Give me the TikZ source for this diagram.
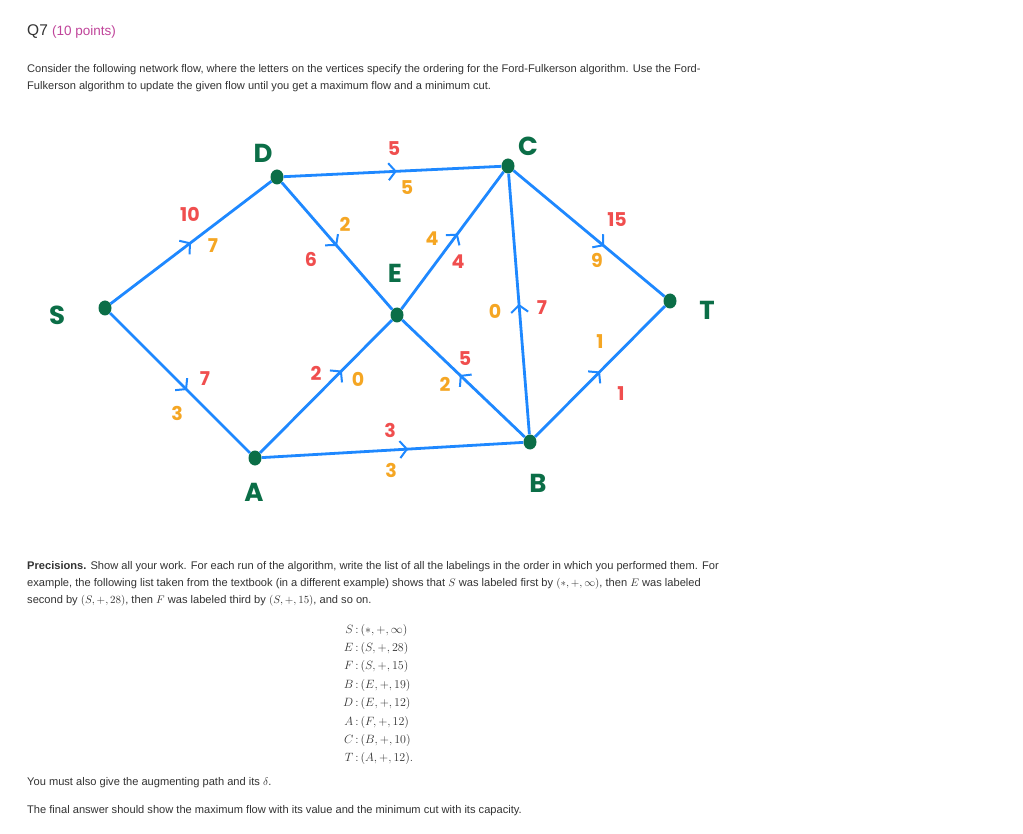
\documentclass[tikz,border=0pt]{standalone}
\usepackage{fontspec}
\setmainfont{Liberation Sans}
\newfontfamily\hand{Poppins}
\usetikzlibrary{decorations.markings,arrows.meta,shapes.geometric}
\definecolor{eblue}{HTML}{1E88FF}
\definecolor{vgreen}{HTML}{0B6E47}
\definecolor{cred}{HTML}{F04E4E}
\definecolor{forange}{HTML}{F5A623}
\definecolor{pinkt}{HTML}{C0449A}
\definecolor{txt}{HTML}{333333}
\tikzset{
  vtx/.style={ellipse,fill=vgreen,inner sep=0pt,minimum width=13pt,minimum height=15pt},
  vlab/.style={text=vgreen,font=\hand\fontsize{26}{26}\selectfont\bfseries},
  edge/.style={draw=eblue,line width=2.8pt,postaction={decorate},decoration={markings,mark=at position #1 with {\arrow[eblue,line width=2pt]{Straight Barb[length=7pt,width=17pt]}}}},
  caplab/.style={text=cred,font=\hand\fontsize{19}{19}\selectfont\bfseries},
  flo/.style={text=forange,font=\hand\fontsize{19}{19}\selectfont\bfseries},
  para/.style={anchor=west,text=txt,font=\fontsize{11.1}{13}\selectfont,inner sep=0pt},
}
\begin{document}
\begin{tikzpicture}[x=1pt,y=-1pt]
\useasboundingbox[fill=white] (0,0) rectangle (1023,834);
\node[anchor=west,inner sep=0pt,font=\fontsize{15.5}{17}\selectfont,text=txt] (title) at (27,32) {Q7 \textcolor{pinkt}{\fontsize{13.5}{15}\selectfont(10 points)}};
\node[para] (p1) at (27,70) {Consider the following network flow, where the letters on the vertices specify the ordering for the Ford-Fulkerson algorithm. Use the Ford-};
\node[para] (p2) at (27,87) {Fulkerson algorithm to update the given flow until you get a maximum flow and a minimum cut.};

\node[vtx] (S) at (105,308) {};
\node[vtx] (D) at (277,177) {};
\node[vtx] (C) at (508,166) {};
\node[vtx] (E) at (397,315) {};
\node[vtx] (T) at (670,301) {};
\node[vtx] (A) at (255,458) {};
\node[vtx] (B) at (530,442) {};
\node[vlab] (lS) at (57,315) {S};
\node[vlab] (lD) at (263,153) {D};
\node[vlab] (lC) at (528,146) {C};
\node[vlab] (lE) at (395,273) {E};
\node[vlab] (lT) at (707,310) {T};
\node[vlab] (lA) at (254,492) {A};
\node[vlab] (lB) at (538,483) {B};

\path[edge=0.5] (S) -- (D);
\path[edge=0.55] (S) -- (A);
\path[edge=0.52] (D) -- (C);
\path[edge=0.5] (D) -- (E);
\path[edge=0.55] (E) -- (C);
\path[edge=0.6] (C) -- (T);
\path[edge=0.5] (B) -- (C);
\path[edge=0.53] (B) -- (E);
\path[edge=0.62] (A) -- (E);
\path[edge=0.56] (A) -- (B);
\path[edge=0.5] (B) -- (T);

\node[caplab] (c1) at (190,214) {10};
\node[flo] (f1) at (213,246) {7};
\node[caplab] (c2) at (205,379) {7};
\node[flo] (f2) at (177,413) {3};
\node[caplab] (c3) at (394,149) {5};
\node[flo] (f3) at (407,188) {5};
\node[caplab] (c4) at (311,259) {6};
\node[flo] (f4) at (345,224) {2};
\node[flo] (f5) at (432,239) {4};
\node[caplab] (c5) at (458,262) {4};
\node[caplab] (c6) at (617,220) {15};
\node[flo] (f6) at (597,260) {9};
\node[flo] (f7) at (495,311) {0};
\node[caplab] (c7) at (542,308) {7};
\node[caplab] (c8) at (465,359) {5};
\node[flo] (f8) at (445,384) {2};
\node[caplab] (c9) at (316,373) {2};
\node[flo] (f9) at (358,379) {0};
\node[caplab] (c10) at (390,430) {3};
\node[flo] (f10) at (391,470) {3};
\node[flo] (f11) at (600,342) {1};
\node[caplab] (c11) at (621,394) {1};

\node[para] (q1) at (27,567) {\textbf{Precisions.} Show all your work. For each run of the algorithm, write the list of all the labelings in the order in which you performed them. For};
\node[para] (q2) at (27,584) {example, the following list taken from the textbook (in a different example) shows that $S$ was labeled first by $(*,+,\infty)$, then $E$ was labeled};
\node[para] (q3) at (27,601) {second by $(S,+,28)$, then $F$ was labeled third by $(S,+,15)$, and so on.};

\node[anchor=north west,inner sep=0pt,font=\fontsize{13}{18.4}\selectfont,text=txt] (lst) at (343,620) {%
$\renewcommand{\arraystretch}{1}\begin{array}{@{}r@{\,:\,}l@{}}
S & (*,+,\infty)\\
E & (S,+,28)\\
F & (S,+,15)\\
B & (E,+,19)\\
D & (E,+,12)\\
A & (F,+,12)\\
C & (B,+,10)\\
T & (A,+,12).
\end{array}$};

\node[para] (r1) at (27,783) {You must also give the augmenting path and its $\delta$.};
\node[para] (r2) at (27,811) {The final answer should show the maximum flow with its value and the minimum cut with its capacity.};
\end{tikzpicture}
\end{document}
